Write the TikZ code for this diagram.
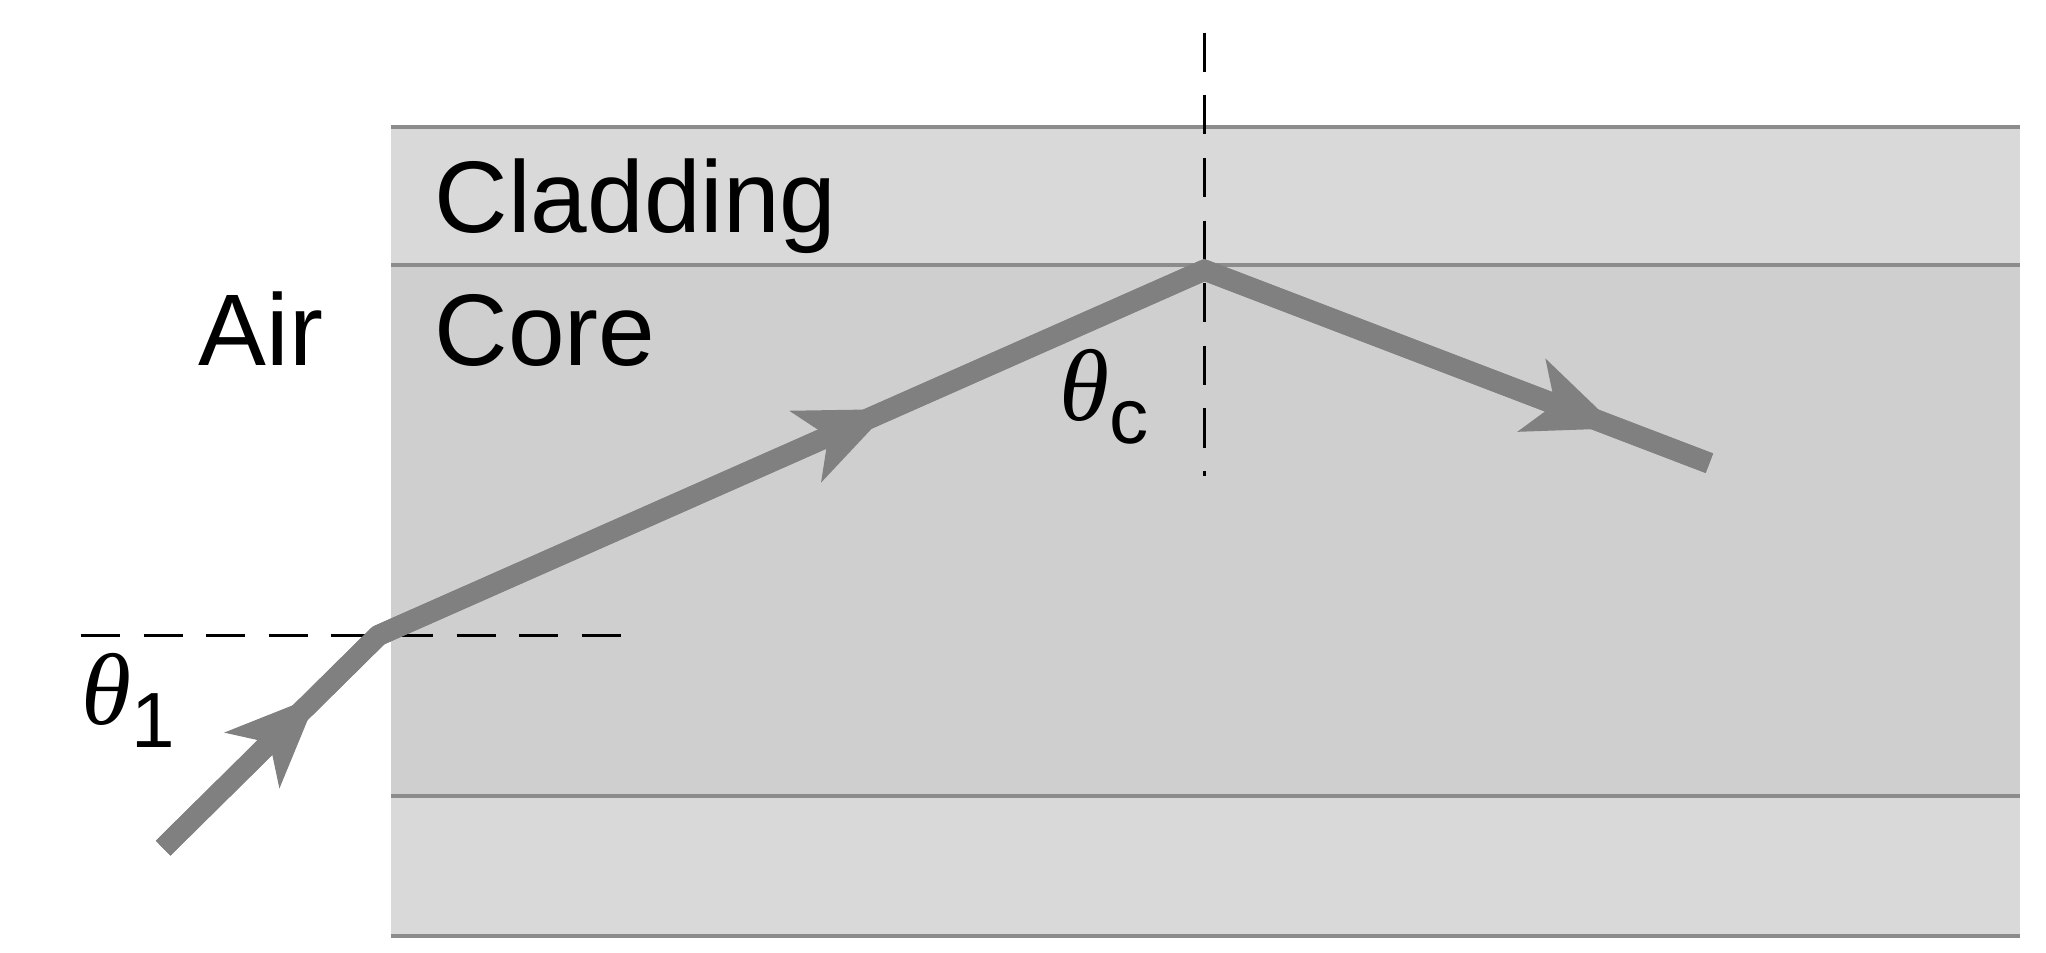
\documentclass[tikz,border=0pt]{standalone}
\usepackage{fontspec}
\setmainfont{Liberation Sans}
\newfontfamily\grkfont{Liberation Serif}
\usetikzlibrary{arrows.meta,decorations.markings}
\begin{document}
\begin{tikzpicture}[x=1pt,y=-1pt,
  bound/.style={draw=black!45,line width=3pt},
  dsh/.style={draw=black,line width=3pt,dash pattern=on 30pt off 18pt},
  ray/.style={draw=black!50,line width=16pt},
  midarrow/.style={postaction={decorate},decoration={markings,mark=at position #1 with {\arrow{Stealth[length=70pt,width=58pt,inset=18pt,black!50]}}}},
  lbl/.style={font=\fontsize{78}{80}\selectfont,inner sep=0pt}]
\useasboundingbox (0,0) rectangle (1568,730);
\fill[black!15] (300,97) rectangle (1548,717);
\fill[black!19] (300,203) rectangle (1548,610);
\draw[bound] (300,97) -- (1548,97);
\draw[bound] (300,203) -- (1548,203);
\draw[bound] (300,610) -- (1548,610);
\draw[bound] (300,717) -- (1548,717);
\coordinate (vt) at (923,25); \coordinate (vb) at (923,365);
\draw[dsh,line width=2.5pt] (vt) -- (vb);
\coordinate (hl) at (62,487); \coordinate (hr) at (478,487);
\draw[dsh] (hl) -- (hr);
\coordinate (a) at (125,650); \coordinate (b) at (290,487);
\coordinate (c) at (923,207); \coordinate (d) at (1310,355);
\draw[ray,midarrow=0.72] (a) -- (b);
\draw[ray,midarrow=0.62] (b) -- (c);
\draw[ray,midarrow=0.82] (c) -- (d);
\draw[ray,line join=miter] (a) -- (b) -- (c) -- (d);
\node[lbl,anchor=base west] (clad) at (333,178) {Cladding};
\node[lbl,anchor=base west] (core) at (333,280) {Core};
\node[lbl,anchor=base west] (air) at (152,280) {Air};
\node[lbl,anchor=base west] (tc) at (812,322) {{\grkfont\itshape θ}\raisebox{-18pt}{\fontsize{60}{60}\selectfont c}};
\node[lbl,anchor=base west] (t1) at (62,555) {{\grkfont\itshape θ}\raisebox{-18pt}{\fontsize{60}{60}\selectfont 1}};
\end{tikzpicture}
\end{document}
